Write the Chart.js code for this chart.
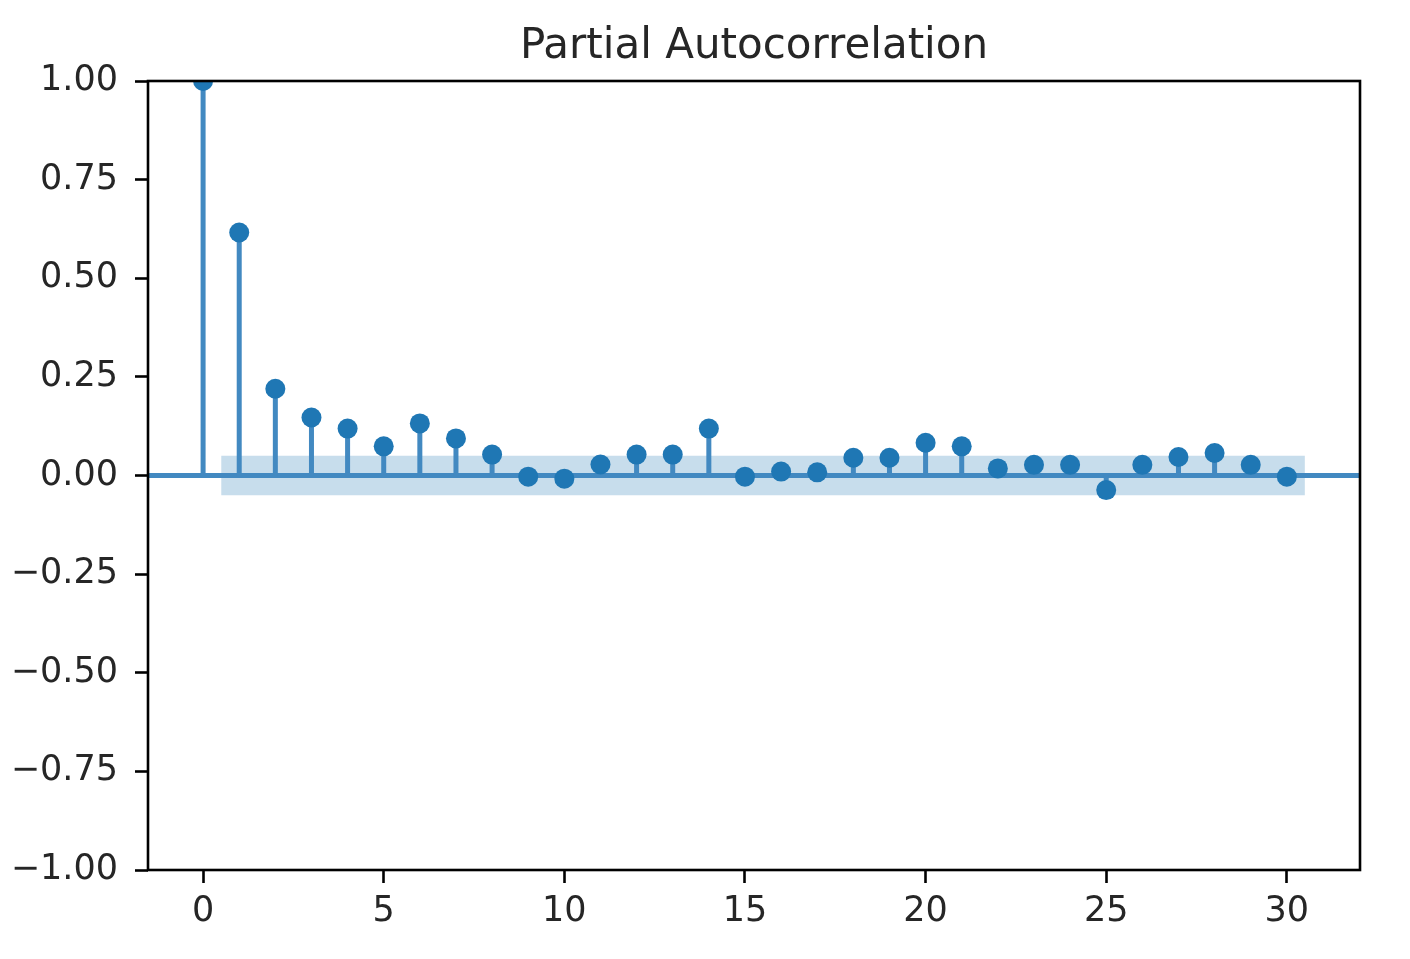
<!DOCTYPE html>
<html>
<head>
<meta charset="utf-8">
<script src="https://cdn.jsdelivr.net/npm/chart.js@4/dist/chart.umd.min.js"></script>
<style>
  html, body { margin: 0; padding: 0; background: #fff; }
  #wrap { width: 1410px; height: 959px; position: relative; }
</style>
</head>
<body>
<div id="wrap"><canvas id="pacf"></canvas></div>
<script>
// lags and partial autocorrelation values
const lags = [0, 1, 2, 3, 4, 5, 6, 7, 8, 9, 10, 11, 12, 13, 14, 15, 16, 17, 18, 19, 20, 21, 22, 23, 24, 25, 26, 27, 28, 29, 30]
const pacfValues = [1.0, 0.616, 0.22, 0.147, 0.119, 0.074, 0.132, 0.094, 0.053, -0.003, -0.008, 0.028, 0.053, 0.053, 0.119, -0.003, 0.01, 0.008, 0.045, 0.045, 0.083, 0.074, 0.018, 0.027, 0.027, -0.037, 0.027, 0.047, 0.057, 0.027, -0.003]

// confidence band (centred on 0), spans lag 0.5 .. 30.5
const bandX = [0.5, 30.5]
const bandHalf = 0.05

const xTicks = [0, 5, 10, 15, 20, 25, 30]
const yTicks = [-1, -0.75, -0.5, -0.25, 0, 0.25, 0.5, 0.75, 1]
const xRange = [-1.525, 32.025]
const yRange = [-1, 1]

const blue = '#1f77b4'
const stemBlue = 'rgb(66, 137, 193)'
const txt = '#262626'

// stems: vertical segments separated by gaps
const stemData = []
lags.forEach((lag, i) => {
  stemData.push({ x: lag, y: 0 })
  stemData.push({ x: lag, y: pacfValues[i] })
  stemData.push({ x: lag, y: null })
})

const frame = {
  id: 'frame',
  afterDatasetsDraw(chart) {
    const a = chart.chartArea
    const ctx = chart.ctx
    ctx.save()
    ctx.strokeStyle = '#000'
    ctx.lineWidth = 2.6
    ctx.strokeRect(a.left, a.top, a.right - a.left, a.bottom - a.top)
    ctx.restore()
  }
}

new Chart(document.getElementById('pacf'), {
  type: 'scatter',
  data: {
    datasets: [
      {
        label: 'pacf',
        data: lags.map((l, i) => ({ x: l, y: pacfValues[i] })),
        backgroundColor: blue,
        borderColor: blue,
        pointRadius: 10,
        pointBorderWidth: 0,
        showLine: false,
        clip: 0,
        order: 0
      },
      {
        label: 'stems',
        data: stemData,
        showLine: true,
        spanGaps: false,
        borderColor: stemBlue,
        borderWidth: 5,
        pointRadius: 0,
        clip: 0,
        order: 1
      },
      {
        label: 'zero',
        data: xRange.map(x => ({ x: x, y: 0 })),
        showLine: true,
        borderColor: stemBlue,
        borderWidth: 5,
        pointRadius: 0,
        clip: 0,
        order: 2
      },
      {
        label: 'upper',
        data: bandX.map(x => ({ x: x, y: bandHalf })),
        showLine: true,
        borderWidth: 0,
        pointRadius: 0,
        order: 3
      },
      {
        label: 'lower',
        data: bandX.map(x => ({ x: x, y: -bandHalf })),
        showLine: true,
        borderWidth: 0,
        pointRadius: 0,
        fill: '-1',
        backgroundColor: 'rgba(31, 119, 180, 0.25)',
        order: 4
      }
    ]
  },
  options: {
    responsive: true,
    maintainAspectRatio: false,
    animation: false,
    layout: { padding: { left: 0, right: 50, top: 0, bottom: 0 } },
    plugins: {
      legend: { display: false },
      tooltip: { enabled: false },
      title: {
        display: true,
        text: 'Partial Autocorrelation',
        fullSize: false,
        color: txt,
        font: { family: 'DejaVu Sans', size: 42, weight: 'normal', lineHeight: 1.2 },
        padding: { top: 22, bottom: 8.6 }
      }
    },
    scales: {
      x: {
        type: 'linear',
        min: xRange[0],
        max: xRange[1],
        afterBuildTicks: s => { s.ticks = xTicks.map(v => ({ value: v })) },
        afterFit: s => { s.height = 89 },
        border: { display: false },
        grid: { drawOnChartArea: false, drawTicks: true, tickLength: 13, tickWidth: 2.6, tickColor: '#000' },
        ticks: {
          color: txt,
          padding: 8,
          maxRotation: 0,
          font: { family: 'DejaVu Sans', size: 35, lineHeight: 1.2 },
          callback: v => String(v)
        }
      },
      y: {
        type: 'linear',
        min: yRange[0],
        max: yRange[1],
        afterBuildTicks: s => { s.ticks = yTicks.map(v => ({ value: v })) },
        afterFit: s => { s.width = 148 },
        border: { display: false },
        grid: { drawOnChartArea: false, drawTicks: true, tickLength: 13, tickWidth: 2.6, tickColor: '#000' },
        ticks: {
          color: txt,
          padding: 17,
          font: { family: 'DejaVu Sans', size: 35, lineHeight: 1.2 },
          callback: v => {
            const s = Math.abs(v) < 1e-9 ? '0.00' : v.toFixed(2)
            return s.replace('-', '\u2212')
          }
        }
      }
    }
  },
  plugins: [frame]
})
</script>
</body>
</html>
